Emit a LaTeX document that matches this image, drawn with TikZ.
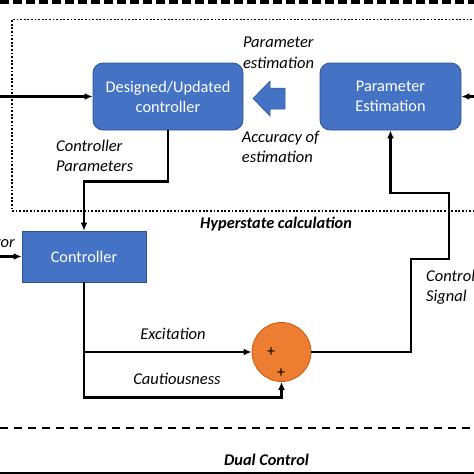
\documentclass[tikz,border=0pt]{standalone}
\usepackage{fontspec}
\setmainfont{Carlito}
\usetikzlibrary{arrows.meta}
\definecolor{boxblue}{HTML}{4472C4}
\definecolor{boxedge}{HTML}{2F528F}
\definecolor{sumorange}{HTML}{ED7D31}
\definecolor{sumedge}{HTML}{C55A11}
\begin{document}
\begin{tikzpicture}[x=1pt, y=-1pt,
    blockbox/.style={draw=boxedge, fill=boxblue, line width=0.8pt, text=white,
      font=\fontsize{16.3}{20}\selectfont, align=center, inner sep=0pt},
    lbl/.style={font=\fontsize{16.5}{20.5}\selectfont\itshape, align=left, inner sep=0pt},
    title/.style={font=\fontsize{16.3}{20}\selectfont\bfseries\itshape, inner sep=0pt},
    sig/.style={line width=2.2pt, -{Latex[length=8pt,width=7pt]}}]
    \useasboundingbox (0,0) rectangle (474,474);
    % Frames
    \draw[line width=4pt, dash pattern=on 9pt off 4pt] (0,2) -- (474,2);
    \draw[line width=1.8pt, dash pattern=on 1.8pt off 1.8pt] (490,19.5) -- (12,19.5)
    -- (12,211) -- (490,211);
    \draw[line width=2.2pt, dash pattern=on 8pt off 6pt] (0,428) -- (474,428);
    \draw[line width=3pt] (0,473) -- (474,473);

    % Blocks
    \node[blockbox, rounded corners=10pt, minimum width=150pt, minimum height=67pt]
    (design) at (168,96.5) {Designed/Updated\\controller};
    \node[blockbox, rounded corners=10pt, minimum width=141pt, minimum height=67pt]
    (estim) at (390.5,96.5) {Parameter\\Estimation};
    \node[blockbox, minimum width=124pt, minimum height=51pt] (ctrl) at (84,256.5)
    {Controller};
    \node[circle, draw=sumedge, fill=sumorange, line width=0.8pt, minimum size=59pt,
    inner sep=0pt] (sum) at (281.5,352) {};
    \node[font=\fontsize{16}{16}\selectfont, inner sep=0pt] (plusA) at (271,352) {+};
    \node[font=\fontsize{16}{16}\selectfont, inner sep=0pt] (plusB) at (281,373) {+};
    % Block arrow
    \filldraw[fill=boxblue, draw=boxedge, line width=0.5pt] (253,98.5) -- (270,81) --
    (270,88) -- (285,88) -- (285,109) -- (270,109) -- (270,116) -- cycle;

    % Signals
    \coordinate (inL) at (0,96.5);
    \coordinate (inR) at (474,96.5);
    \coordinate (inC) at (0,256.5);
    \draw[sig] (inL) -- (design.west);
    \draw[sig] (inR) -- (estim.east);
    \draw[sig] (inC) -- (ctrl.west);
    \draw[sig] (design.south) -- ++(0,51) -| (ctrl.north);
    \draw[sig] (ctrl.south) |- (sum.west);
    \draw[sig] (ctrl.south) -- ++(0,115) -| (sum.south);
    \draw[sig] (sum.east) -- (411,352) -- (411,259) -- (449,259) -- (449,193)
    -| (estim.south);

    % Labels
    \node[lbl, anchor=east] (errLbl) at (15,242) {Error};
    \node[lbl] (estLbl) at (278.5,53) {Parameter\\estimation};
    \node[lbl] (accLbl) at (280.5,147) {Accuracy of\\estimation};
    \node[lbl, anchor=west] (parLbl) at (56,156) {Controller\\Parameters};
    \node[lbl] (excLbl) at (173,334) {Excitation};
    \node[lbl] (cauLbl) at (177,379) {Cautiousness};
    \node[lbl, anchor=west] (sigLbl) at (426,287) {Control\\Signal};
    \node[title, anchor=west] (hypLbl) at (200,224) {Hyperstate calculation};
    \node[title, anchor=west] (dualLbl) at (224,460) {Dual Control};
\end{tikzpicture}
\end{document}
